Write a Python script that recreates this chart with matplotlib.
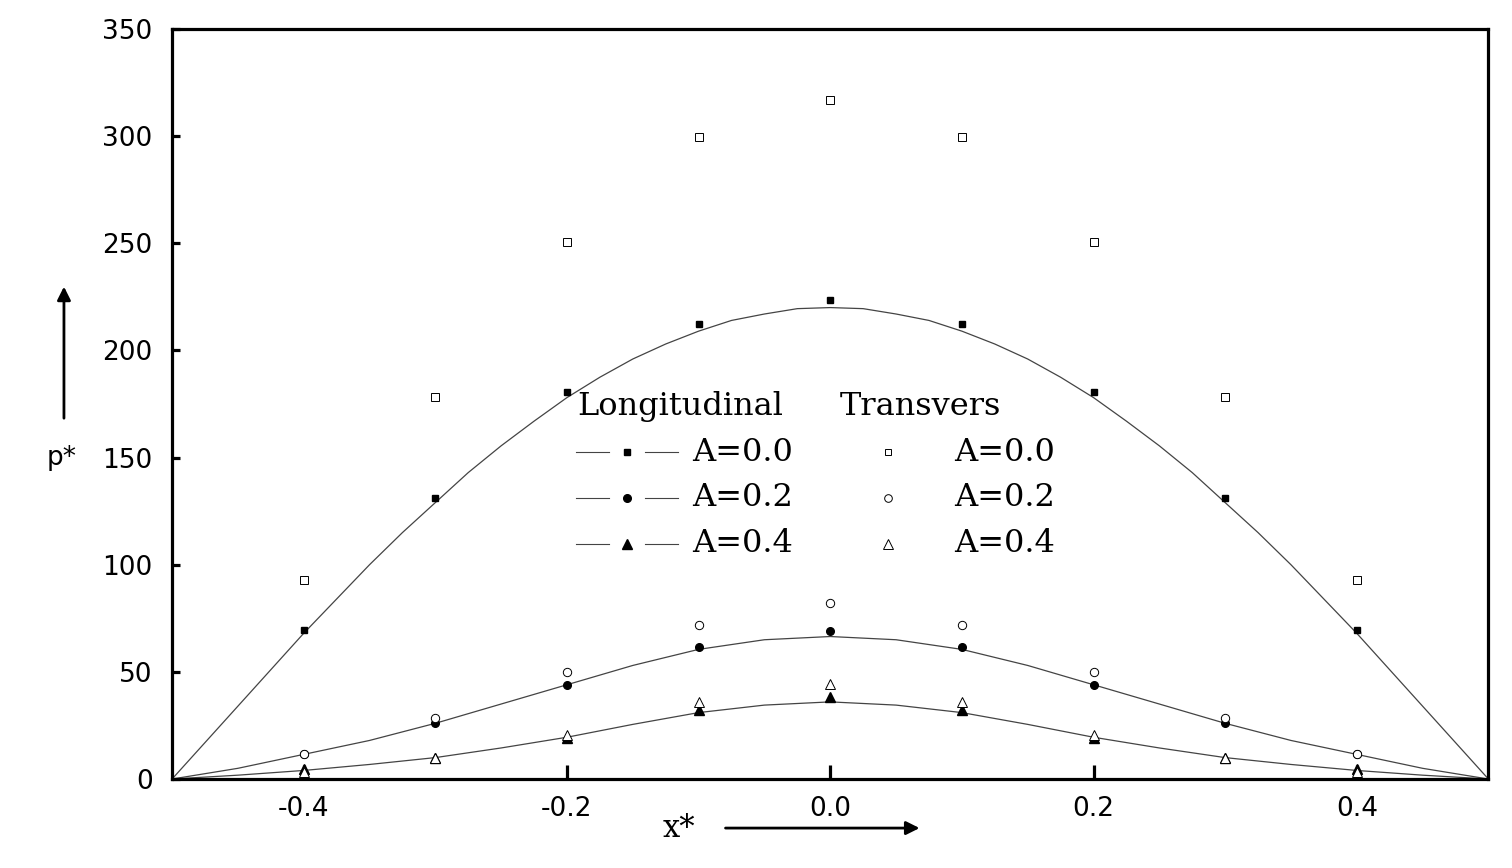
import matplotlib
matplotlib.use("Agg")
import matplotlib.pyplot as plt

# data
x_pts = [-0.4, -0.3, -0.2, -0.1, 0.0, 0.1, 0.2, 0.3, 0.4]

# Longitudinal (filled markers)
long_a00 = [69.5, 131, 180.5, 212.5, 223.5, 212.5, 180.5, 131, 69.5]
long_a02 = [11.5, 26, 44, 61.5, 69, 61.5, 44, 26, 11.5]
long_a04 = [4.5, 10, 19, 32, 38.5, 32, 19, 10, 4.5]

# Transvers (open markers)
trans_a00 = [93, 178.5, 250.5, 299.5, 317, 299.5, 250.5, 178.5, 93]
trans_a02 = [11.5, 28.5, 50, 72, 82, 72, 50, 28.5, 11.5]
trans_a04 = [3.5, 10, 20.5, 36, 44.5, 36, 20.5, 10, 3.5]

# fitted curves
x_curve_a00 = [-0.5, -0.475, -0.45, -0.425, -0.4, -0.375, -0.35, -0.325, -0.3,
               -0.275, -0.25, -0.225, -0.2, -0.175, -0.15, -0.125, -0.1,
               -0.075, -0.05, -0.025, 0.0, 0.025, 0.05, 0.075, 0.1, 0.125,
               0.15, 0.175, 0.2, 0.225, 0.25, 0.275, 0.3, 0.325, 0.35, 0.375,
               0.4, 0.425, 0.45, 0.475, 0.5]
curve_a00 = [0, 17, 34, 51, 68, 84, 100, 115, 129, 143, 155.5, 167, 178, 187.5,
             196, 203, 209, 214, 217, 219.5, 220, 219.5, 217, 214, 209, 203,
             196, 187.5, 178, 167, 155.5, 143, 129, 115, 100, 84, 68, 51, 34,
             17, 0]
x_curve = [-0.5, -0.45, -0.4, -0.35, -0.3, -0.25, -0.2, -0.15, -0.1, -0.05, 0.0,
           0.05, 0.1, 0.15, 0.2, 0.25, 0.3, 0.35, 0.4, 0.45, 0.5]
curve_a02 = [0, 5, 11.5, 18, 26, 35, 44, 53, 60.5, 65, 66.5,
             65, 60.5, 53, 44, 35, 26, 18, 11.5, 5, 0]
curve_a04 = [0, 1.8, 4, 6.8, 10, 14.5, 19.5, 25.5, 31, 34.5, 36,
             34.5, 31, 25.5, 19.5, 14.5, 10, 6.8, 4, 1.8, 0]

x_ticks = [-0.4, -0.2, 0.0, 0.2, 0.4]
x_ticklabels = ['-0.4', '-0.2', '0.0', '0.2', '0.4']
y_ticks = [0, 50, 100, 150, 200, 250, 300, 350]
leg_labels = ['A=0.0', 'A=0.2', 'A=0.4']

fig = plt.figure(figsize=(15.12, 8.68), dpi=100)
ax = fig.add_axes([0.1138, 0.1025, 0.8706, 0.8641])

lc = '#444444'
ax.plot(x_curve_a00, curve_a00, color=lc, lw=0.9, zorder=1)
ax.plot(x_curve, curve_a02, color=lc, lw=0.9, zorder=1)
ax.plot(x_curve, curve_a04, color=lc, lw=0.9, zorder=1)

ax.plot(x_pts, long_a00, 's', color='black', ms=5, zorder=3)
ax.plot(x_pts, long_a02, 'o', color='black', ms=5.5, zorder=3)
ax.plot(x_pts, long_a04, '^', color='black', ms=7, zorder=3)
ax.plot(x_pts, trans_a00, 's', mfc='white', mec='black', mew=0.7, ms=5.5, zorder=3)
ax.plot(x_pts, trans_a02, 'o', mfc='white', mec='black', mew=0.7, ms=6, zorder=3)
ax.plot(x_pts, trans_a04, '^', mfc='white', mec='black', mew=0.7, ms=7.5, zorder=3)

ax.set_xlim(-0.5, 0.5)
ax.set_ylim(0, 350)
ax.set_xticks(x_ticks)
ax.set_xticklabels(x_ticklabels)
ax.set_yticks(y_ticks)
for s in ax.spines.values():
    s.set_linewidth(2.3)
ax.tick_params(axis='x', direction='in', length=10, width=2.3, pad=12,
               labelsize=19)
ax.tick_params(axis='y', direction='in', length=6, width=2.3, pad=14,
               labelsize=19)
for lab in ax.get_xticklabels() + ax.get_yticklabels():
    lab.set_family('DejaVu Sans')

# legend drawn by hand
serif = 'DejaVu Serif'
ax.text(0.3075, 0.497, 'Longitudinal', transform=ax.transAxes,
        fontsize=23, family=serif, va='center', ha='left')
ax.text(0.507, 0.497, 'Transvers', transform=ax.transAxes,
        fontsize=23, family=serif, va='center', ha='left')
rows = [0.436, 0.375, 0.314]
long_m = ['s', 'o', '^']
long_ms = [5, 5.5, 7]
for yy, m, ms, lab in zip(rows, long_m, long_ms, leg_labels):
    ax.plot([0.307, 0.332], [yy, yy], color=lc, lw=0.8, transform=ax.transAxes)
    ax.plot([0.359, 0.384], [yy, yy], color=lc, lw=0.8, transform=ax.transAxes)
    ax.plot([0.3455], [yy], m, color='black', ms=ms, transform=ax.transAxes)
    ax.plot([0.544], [yy], m, mfc='white', mec='black', mew=0.7, ms=ms,
            transform=ax.transAxes)
    ax.text(0.395, yy, lab, transform=ax.transAxes, fontsize=23, family=serif,
            va='center', ha='left')
    ax.text(0.594, yy, lab, transform=ax.transAxes, fontsize=23, family=serif,
            va='center', ha='left')

# axis labels with arrows
fig.text(0.4385, 0.046, 'x*', fontsize=22, family=serif, va='center', ha='left')
fig.add_artist(matplotlib.patches.FancyArrowPatch(
    (0.478, 0.046), (0.61, 0.046), transform=fig.transFigure,
    arrowstyle='-|>', mutation_scale=20, lw=2, color='black'))
fig.text(0.031, 0.472, 'p*', fontsize=19, family='DejaVu Sans',
         va='center', ha='left')
fig.add_artist(matplotlib.patches.FancyArrowPatch(
    (0.0423, 0.515), (0.0423, 0.673), transform=fig.transFigure,
    arrowstyle='-|>', mutation_scale=20, lw=2, color='black'))

fig.savefig('out.png', dpi=100)
